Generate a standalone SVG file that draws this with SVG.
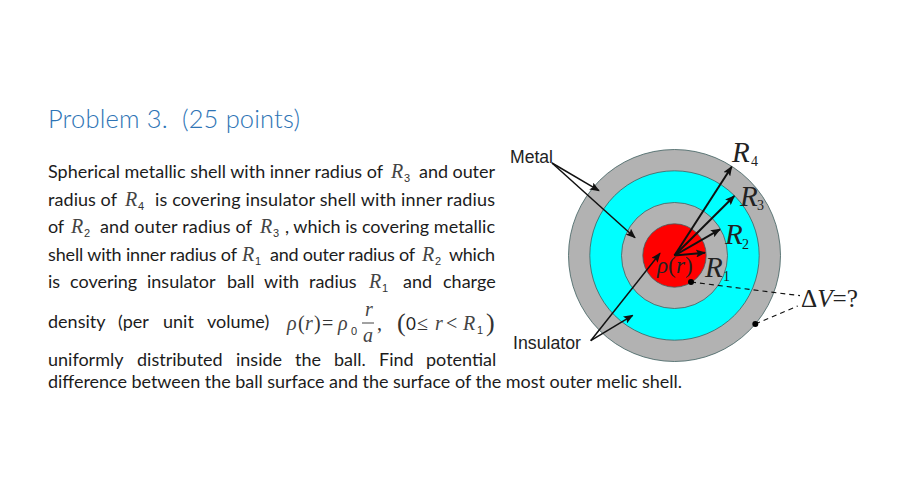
<svg xmlns="http://www.w3.org/2000/svg" width="921" height="490" viewBox="0 0 921 490">
<style>
.t{font-family:Lato,"Open Sans",sans-serif;font-size:18px;fill:#1c1c1c}
.h{font-family:Lato,"Open Sans",sans-serif;font-size:25.5px;fill:#2e74b5;font-weight:300}
.m{font-family:"Liberation Serif",serif;font-style:italic;font-size:20px;fill:#444}
.u{font-family:"Liberation Serif",serif;font-size:20px;fill:#333}
.s{font-family:"Liberation Sans",sans-serif;font-size:11px;fill:#333}
.l{font-family:"Liberation Sans",sans-serif;font-size:17.5px;fill:#222}
.r{font-family:"Liberation Serif",serif;font-style:italic;font-size:29px;fill:#222}
.rs{font-family:"Liberation Serif",serif;font-size:14px;fill:#222}
.p{font-family:"Liberation Serif",serif;font-size:23px;fill:#222}
.ring{stroke:#3f5f60;stroke-width:.8}
.a{stroke:#111;stroke-width:1.5;fill:none;marker-end:url(#ah)}
.ra{stroke:#111;stroke-width:2;fill:none;marker-end:url(#ah)}
.d{stroke:#111;stroke-width:1.2;stroke-dasharray:5 4;fill:none}
</style>
<defs>
<marker id="ah" viewBox="0 0 10 8" refX="9" refY="4" markerWidth="10" markerHeight="8" markerUnits="userSpaceOnUse" orient="auto"><path d="M0 0L10 4L0 8L2 4Z" fill="#111"/></marker>
</defs>
<rect width="921" height="490" fill="#fff"/>
<g id="problem-text">
<text class="h" x="48" y="128" textLength="252" lengthAdjust="spacing" xml:space="preserve">Problem 3.  (25 points)</text>
<text class="t" x="48" y="178" textLength="335" lengthAdjust="spacing">Spherical metallic shell with inner radius of</text>
<text class="m" x="391" y="178">R</text><text class="s" x="404" y="182">3</text>
<text class="t" x="419" y="178" textLength="76" lengthAdjust="spacing">and outer</text>
<text class="t" x="48" y="206" textLength="69" lengthAdjust="spacing">radius of</text>
<text class="m" x="125" y="206">R</text><text class="s" x="138" y="210">4</text>
<text class="t" x="155" y="206" textLength="340" lengthAdjust="spacing">is covering insulator shell with inner radius</text>
<text class="t" x="48" y="233" textLength="16" lengthAdjust="spacing">of</text>
<text class="m" x="71" y="233">R</text><text class="s" x="84" y="237">2</text>
<text class="t" x="100" y="233" textLength="152" lengthAdjust="spacing">and outer radius of</text>
<text class="m" x="260" y="233">R</text><text class="s" x="273" y="237">3</text>
<text class="t" x="285" y="233" textLength="210" lengthAdjust="spacing">, which is covering metallic</text>
<text class="t" x="48" y="261" textLength="189" lengthAdjust="spacing">shell with inner radius of</text>
<text class="m" x="242" y="261">R</text><text class="s" x="255" y="265">1</text>
<text class="t" x="270" y="261" textLength="145" lengthAdjust="spacing">and outer radius of</text>
<text class="m" x="422" y="261">R</text><text class="s" x="435" y="265">2</text>
<text class="t" x="449" y="261" textLength="46" lengthAdjust="spacing">which</text>
<text class="t" y="288"><tspan x="48">is</tspan> <tspan x="70">covering</tspan> <tspan x="147">insulator</tspan> <tspan x="227">ball</tspan> <tspan x="264">with</tspan> <tspan x="309">radius</tspan></text>
<text class="m" x="369" y="288">R</text><text class="s" x="382" y="292">1</text>
<text class="t" y="288"><tspan x="403">and</tspan> <tspan x="443">charge</tspan></text>
<text class="t" y="328"><tspan x="48">density</tspan> <tspan x="118">(per</tspan> <tspan x="163">unit</tspan> <tspan x="207">volume)</tspan></text>
<text class="m" x="287" y="330">ρ</text><text class="u" x="298" y="330">(</text><text class="m" x="305" y="330">r</text><text class="u" x="314" y="330">)</text><text class="u" x="322" y="330">=</text>
<text class="m" x="338" y="330">ρ</text><text class="s" x="351" y="335">0</text>
<text class="m" x="365" y="316">r</text><line x1="362" y1="323" x2="374" y2="323" stroke="#444"/><text class="m" x="363" y="342">a</text><text class="u" x="377" y="330">,</text>
<text class="u" x="397" y="331" style="font-size:26px">(</text><text class="t" x="406" y="330" style="font-size:17px">0</text><text class="u" x="417" y="330">≤</text><text class="m" x="435" y="330">r</text><text class="u" x="446" y="330">&lt;</text><text class="m" x="463" y="330">R</text><text class="s" x="477" y="334">1</text><text class="u" x="486" y="331" style="font-size:26px">)</text>
<text class="t" y="366"><tspan x="48">uniformly</tspan> <tspan x="137">distributed</tspan> <tspan x="236">inside</tspan> <tspan x="295">the</tspan> <tspan x="334">ball.</tspan> <tspan x="379">Find</tspan> <tspan x="426">potential</tspan></text>
<text class="t" x="48" y="388" textLength="634" lengthAdjust="spacing">difference between the ball surface and the surface of the most outer melic shell.</text>
</g>
<g id="outer-metal-shell"><circle class="ring" cx="674.5" cy="255.5" r="106" fill="#b2b2b2"/></g>
<g id="outer-insulator-shell"><circle class="ring" cx="674.5" cy="255.5" r="84.700" fill="#00ffff"/></g>
<g id="inner-metal-shell"><circle class="ring" cx="674.5" cy="255.5" r="53" fill="#b2b2b2"/></g>
<g id="insulator-ball"><circle class="ring" cx="674.5" cy="255.5" r="31.700" fill="#ff0000"/></g>
<g id="connectors">
<path class="a" d="M552 163L599 190.700"/>
<path class="a" d="M552 163L635 237.700"/>
<path class="a" d="M590.700 340.700L660 253.300"/>
<path class="a" d="M590.700 340.700L632.700 315.300"/>
<path class="ra" d="M674.500 255.500L731.700 166.700"/>
<path class="ra" d="M674.500 255.500L734.300 196"/>
<path class="ra" d="M674.500 255.500L720 229.300"/>
<path class="ra" d="M674.500 255.500L705 252.700"/>
<path class="d" d="M691 282L800 295.700"/>
<path class="d" d="M755.300 324L797.700 306"/>
</g>
<g id="label-metal"><text class="l" x="510" y="162.500" textLength="43" lengthAdjust="spacingAndGlyphs">Metal</text></g>
<g id="label-insulator"><text class="l" x="513" y="349" textLength="68" lengthAdjust="spacingAndGlyphs">Insulator</text></g>
<g id="label-r4"><text class="r" x="732" y="162">R</text><text class="rs" x="751" y="166">4</text></g>
<g id="label-r3"><text class="r" x="740" y="206">R</text><text class="rs" x="757" y="210">3</text></g>
<g id="label-r2"><text class="r" x="725" y="244">R</text><text class="rs" x="742" y="249">2</text></g>
<g id="label-r1"><text class="r" x="705" y="277">R</text><text class="rs" x="723" y="281">1</text></g>
<g id="label-rho"><text class="p" x="657" y="273" font-style="italic">ρ</text><text class="p" x="668" y="273">(</text><text class="p" x="676" y="273" font-style="italic">r</text><text class="p" x="685" y="273">)</text></g>
<g id="point-r1"><circle cx="691" cy="282" r="3" fill="#000"/></g>
<g id="point-r4"><circle cx="755.300" cy="324" r="3" fill="#000"/></g>
<g id="label-dv"><text x="801" y="307" font-family="Liberation Serif" font-size="26" fill="#222" textLength="57" lengthAdjust="spacingAndGlyphs">Δ<tspan font-style="italic">V</tspan>=?</text></g>
</svg>
